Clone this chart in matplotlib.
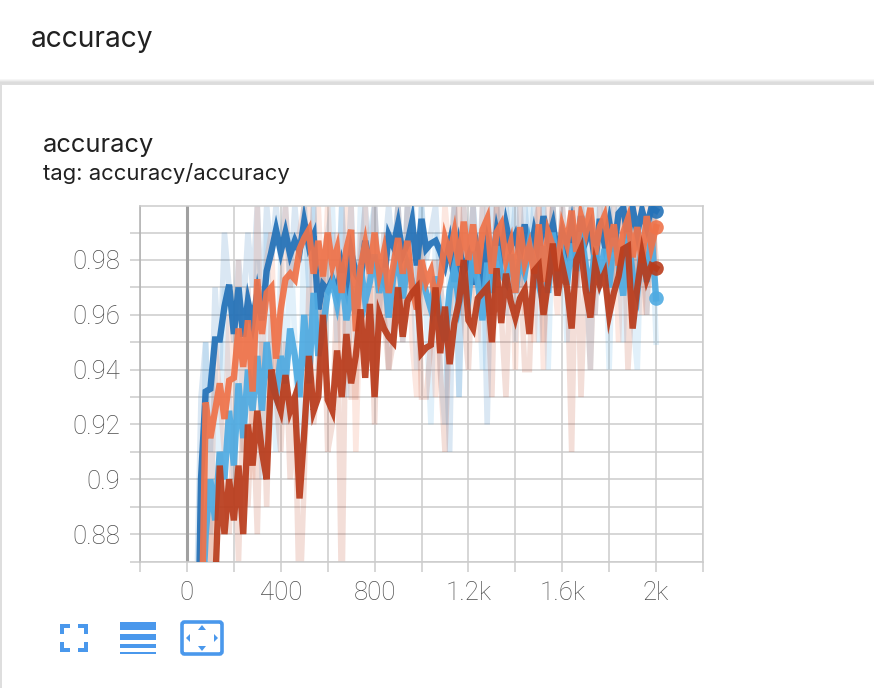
import numpy as np
import matplotlib
matplotlib.use("Agg")
import matplotlib.pyplot as plt
from matplotlib.patches import Rectangle, FancyBboxPatch, Polygon
from matplotlib.ticker import FixedLocator, FixedFormatter, NullFormatter

W, H = 874, 688

steps = np.arange(0, 2001, 20)

x_labels = ["0", "400", "800", "1.2k", "1.6k", "2k"]
x_label_pos = [0, 400, 800, 1200, 1600, 2000]
y_labels = ["0.88", "0.9", "0.92", "0.94", "0.96", "0.98"]
y_label_pos = [0.88, 0.90, 0.92, 0.94, 0.96, 0.98]

# smoothed curves
blue = [.50, .62, .80, .90, .932, .933, .951, .951, .963, .971,
        .953, .970, .952, .965, .957, .968, .958, .976, .983, .991,
        .983, .990, .982, .987, .983, .994, .985, .989, .962, .971,
        .969, .973, .968, .978, .970, .983, .975, .972, .987, .978,
        .980, .975, .972, .989, .985, .993, .982, .986, .994, .978,
        .995, .984, .986, .987, .983, .978, .986, .972, .985, .976,
        .981, .971, .983, .974, .986, .977, .990, .981, .993, .985,
        .989, .982, .993, .980, .990, .982, .996, .987, .993, .982,
        .990, .984, .993, .981, .996, .987, .992, .979, .995, .986,
        .994, .983, .997, .999, .988, .999, .990, .998, .992, .999, .998]
cyan = [.45, .58, .72, .84, .88, .90, .885, .91, .90, .925,
        .905, .935, .915, .94, .925, .945, .925, .95, .935, .93,
        .945, .935, .955, .945, .93, .96, .935, .968, .945, .955,
        .968, .972, .964, .975, .958, .968, .960, .978, .965, .972,
        .982, .968, .977, .959, .974, .981, .966, .978, .972, .965,
        .975, .968, .962, .974, .958, .950, .969, .977, .964, .973,
        .966, .983, .972, .958, .979, .968, .985, .975, .972, .982,
        .968, .980, .975, .986, .978, .971, .985, .968, .990, .975,
        .982, .971, .986, .976, .990, .978, .968, .985, .974, .984,
        .970, .988, .979, .967, .990, .975, .968, .986, .972, .990, .966]
orange = [.44, .55, .70, .83, .928, .915, .925, .935, .922, .936,
          .937, .955, .941, .958, .932, .973, .953, .968, .970, .944,
          .962, .973, .975, .973, .984, .988, .991, .975, .987, .974,
          .990, .978, .984, .968, .984, .991, .954, .977, .986, .975,
          .990, .975, .983, .968, .978, .988, .975, .987, .970, .962,
          .980, .972, .976, .965, .972, .988, .982, .990, .978, .994,
          .980, .993, .975, .991, .995, .975, .990, .993, .980, .986,
          .968, .992, .979, .985, .975, .993, .972, .990, .985, .976,
          .992, .986, .998, .983, .996, .990, .999, .982, .992, .996,
          .984, .993, .978, .990, .995, .981, .992, .979, .996, .985, .992]
red = [.40, .50, .60, .70, .78, .82, .86, .905, .88, .90,
       .885, .905, .88, .92, .905, .925, .91, .90, .94, .93,
       .925, .938, .925, .93, .893, .917, .945, .925, .93, .96,
       .929, .925, .947, .93, .953, .935, .945, .962, .937, .964,
       .93, .96, .955, .952, .95, .97, .952, .965, .968, .970,
       .946, .948, .949, .970, .946, .963, .942, .957, .965, .980,
       .958, .955, .966, .968, .970, .950, .977, .957, .975, .965,
       .959, .966, .969, .953, .976, .978, .960, .972, .986, .967,
       .978, .970, .955, .980, .984, .969, .959, .978, .971, .975,
       .960, .968, .974, .984, .985, .955, .970, .982, .973, .978, .977]

# raw runs (faint), the values sit on whole percents
blue_raw = [.50, .70, .85, .93, .95, .91, .97, .94, .99, .97,
            .95, .98, .96, .99, .97, 1.0, .96, 1.0, .98, 1.0,
            .98, 1.0, .97, 1.0, .98, 1.0, .97, 1.0, .95, .98,
            .97, .99, .96, 1.0, .97, 1.0, .96, .98, 1.0, .98,
            1.0, .97, .98, 1.0, .98, 1.0, .97, 1.0, 1.0, .97,
            1.0, .98, .99, 1.0, .97, .96, .91, 1.0, .93, 1.0,
            .98, 1.0, .97, 1.0, .92, 1.0, .98, 1.0, 1.0, .98,
            1.0, .97, 1.0, .98, 1.0, .97, 1.0, .98, 1.0, .97,
            1.0, .98, 1.0, .97, 1.0, 1.0, .98, .96, 1.0, .98,
            1.0, .97, 1.0, 1.0, .98, 1.0, .97, 1.0, .98, 1.0, 1.0]
cyan_raw = [.40, .60, .78, .86, .95, .88, .94, .90, .97, .93,
            .90, .96, .91, .97, .93, .98, .90, .99, .94, .91,
            .98, .92, .99, .95, .90, 1.0, .92, 1.0, .94, .98,
            .99, 1.0, .95, 1.0, .93, .98, .95, 1.0, .96, .99,
            1.0, .96, .99, .94, .98, 1.0, .95, 1.0, .98, .94,
            1.0, .96, .92, .99, .94, .92, .98, 1.0, .93, .99,
            .97, 1.0, .98, .94, 1.0, .96, 1.0, .99, .96, 1.0,
            .95, 1.0, .97, 1.0, .98, .95, 1.0, .94, 1.0, .97,
            .99, .95, 1.0, .97, 1.0, .98, .94, 1.0, .97, 1.0,
            .94, 1.0, .98, .95, 1.0, .96, .94, 1.0, .96, 1.0, .95]
orange_raw = [.40, .55, .72, .90, .93, .87, .95, .93, .91, .96,
              .92, .98, .91, .97, .90, 1.0, .94, .98, .99, .93,
              .96, 1.0, .97, .98, .99, 1.0, 1.0, .96, 1.0, .96,
              1.0, .97, .99, .94, 1.0, 1.0, .91, .97, 1.0, .96,
              1.0, .96, .99, .94, .97, 1.0, .96, 1.0, .95, .93,
              .99, .96, .97, .93, .96, 1.0, .98, 1.0, .96, 1.0,
              .97, 1.0, .95, 1.0, 1.0, .96, 1.0, 1.0, .97, .99,
              .94, 1.0, .96, .99, .95, 1.0, .94, 1.0, .98, .96,
              1.0, .98, 1.0, .97, 1.0, .99, 1.0, .96, 1.0, 1.0,
              .97, 1.0, .95, 1.0, 1.0, .96, 1.0, .96, 1.0, .97, 1.0]
red_raw = [.30, .45, .60, .88, .90, .87, .89, .91, .90, .88,
           .92, .87, .93, .89, .93, .88, .95, .89, .96, .93,
           .91, .95, .90, .93, .85, .90, .97, .92, .94, .98,
           .91, .92, .97, .85, .98, .93, .93, .99, .94, .98,
           .92, .98, .96, .94, .95, .99, .95, .98, .98, .99,
           .93, .93, .95, .98, .94, .91, .96, .98, 1.0, .96,
           .94, .98, .98, .99, .97, .93, 1.0, .96, .93, .98,
           .97, .98, .94, .94, .99, 1.0, .95, .98, 1.0, .97,
           .99, .98, .91, 1.0, .93, .98, .94, .99, .97, .98,
           .96, .98, .98, 1.0, .94, .97, .99, .98, .96, 1.0, .98]

# header and card chrome colours
ICON = "#4a98ec"
BLUE, CYAN, ORANGE, RED = "#2472b8", "#4fabe2", "#ef734a", "#b93c1c"

plt.rcParams["font.family"] = ["Inter", "DejaVu Sans"]
fig = plt.figure(figsize=(W / 100, H / 100), dpi=100, facecolor="white")

# overlay in pixel coordinates for the page around the chart
bg = fig.add_axes([0, 0, 1, 1], zorder=0)
bg.set_xlim(0, W)
bg.set_ylim(H, 0)
bg.axis("off")
bands = ["#f6f6f6", "#eeeeee", "#e3e3e3", "#dcdcdc", "#dcdcdc", "#dedede"]
for n, c in enumerate(bands):
    bg.add_patch(Rectangle((0, 79 + n), W, 1, fc=c, ec="none"))
bg.add_patch(Rectangle((0, 85), 2, H - 85, fc="#dedede", ec="none"))

bg.text(31, 47, "accuracy", fontsize=20.3, color="#212121", va="baseline")
bg.text(43, 152, "accuracy", fontsize=18.3, color="#212121", va="baseline")
bg.text(43, 180, "tag: accuracy/accuracy", fontsize=15.9, color="#212121", va="baseline")

# fullscreen icon corners
for cx, sx in ((60, 1), (88, -1)):
    for cy, sy in ((624, 1), (652, -1)):
        bg.add_patch(Rectangle((cx, cy), 10 * sx, 4 * sy, fc=ICON, ec="none"))
        bg.add_patch(Rectangle((cx, cy), 4 * sx, 10 * sy, fc=ICON, ec="none"))

# list icon
for top, h in ((622, 8), (634, 6), (644, 4), (652, 2)):
    bg.add_patch(Rectangle((120, top), 36, h, fc=ICON, ec="none"))

# fit-domain icon
bg.add_patch(FancyBboxPatch((182, 622), 40, 32, boxstyle="round,pad=0,rounding_size=2.5",
                            fc="white", ec=ICON, lw=2.6))
bg.add_patch(Polygon([(202, 625), (198, 630), (206, 630)], fc=ICON, ec="none"))
bg.add_patch(Polygon([(202, 651), (198, 646), (206, 646)], fc=ICON, ec="none"))
bg.add_patch(Polygon([(186, 638), (190, 634), (190, 642)], fc=ICON, ec="none"))
bg.add_patch(Polygon([(218, 638), (214, 634), (214, 642)], fc=ICON, ec="none"))

left, right, top, bottom = 140, 703, 206, 561.5
ax = fig.add_axes([left / W, 1 - bottom / H, (right - left) / W, (bottom - top) / H], zorder=1)
ax.patch.set_alpha(0)
ax.set_xlim(-200, 2200)
ax.set_ylim(0.87, 0.9997)

ax.xaxis.set_major_locator(FixedLocator(x_label_pos))
ax.xaxis.set_major_formatter(FixedFormatter(x_labels))
ax.xaxis.set_minor_locator(FixedLocator(np.arange(-200, 2201, 200)))
ax.xaxis.set_minor_formatter(NullFormatter())
ax.yaxis.set_major_locator(FixedLocator(y_label_pos))
ax.yaxis.set_major_formatter(FixedFormatter(y_labels))
ax.yaxis.set_minor_locator(FixedLocator(np.arange(0.87, 1.0, 0.01)))
ax.yaxis.set_minor_formatter(NullFormatter())

ax.grid(True, which="both", color="#cccccc", lw=1.1, zorder=0)
ax.set_axisbelow(True)
ax.tick_params(which="both", color="#cccccc", width=1.1, length=7, labelsize=18.5,
               labelcolor="#4d4d4d", pad=7)
ax.tick_params(axis="x", pad=7)
for lab in ax.get_xticklabels() + ax.get_yticklabels():
    lab.set_fontfamily("Roboto")
    lab.set_fontweight("light")
for s in ax.spines.values():
    s.set_color("#cccccc")
    s.set_linewidth(1.1)
ax.spines["left"].set_color("#b0b0b0")
ax.axvline(0, color="#a0a0a0", lw=2.2, zorder=1)

series = [(blue, blue_raw, BLUE), (cyan, cyan_raw, CYAN),
          (orange, orange_raw, ORANGE), (red, red_raw, RED)]
for smooth, raw, col in series:
    ax.plot(steps, raw, color=col, lw=4.0, alpha=0.17, solid_joinstyle="miter", zorder=2)
for z, (smooth, raw, col) in enumerate(series):
    ax.plot(steps, smooth, color=col, lw=4.6, alpha=0.93, solid_joinstyle="miter", zorder=3 + z)
    ax.plot(steps[-1], smooth[-1], "o", color=col, ms=10.5, mew=0, alpha=0.9, zorder=8)

fig.savefig("out.png", dpi=100)
